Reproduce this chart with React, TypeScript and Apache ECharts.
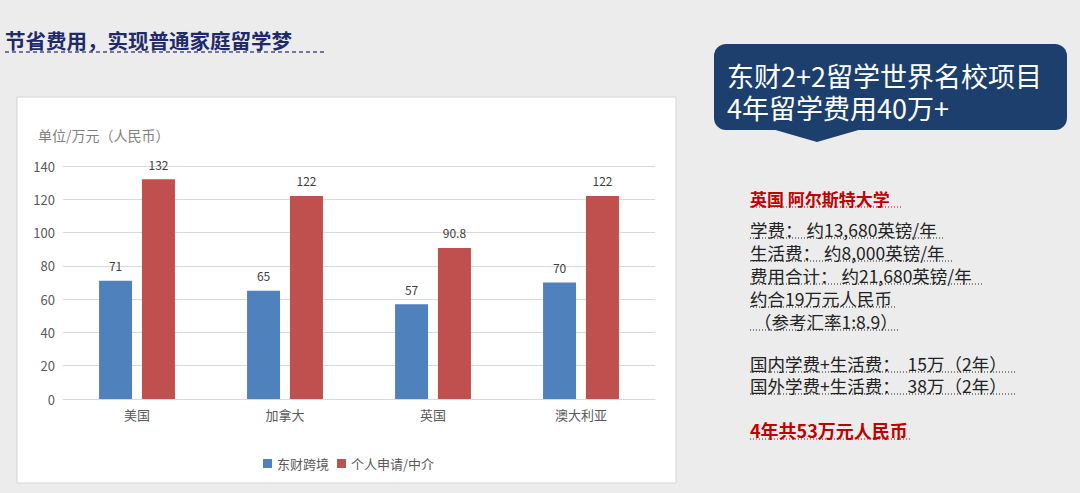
import React, { useEffect, useRef } from "react";
import * as echarts from "echarts";

const categories = ["美国", "加拿大", "英国", "澳大利亚"];
const dongcaiValues = [71, 65, 57, 70];
const agencyValues = [132, 122, 90.8, 122];
const seriesNames = ["东财跨境", "个人申请/中介"];
const yTicks = { min: 0, max: 140, interval: 20 };

const pageTitle = "节省费用，实现普通家庭留学梦";
const calloutLines = ["东财2+2留学世界名校项目", "4年留学费用40万+"];
const sideHeader = "英国 阿尔斯特大学";
const sideLines = [
  "学费： 约13,680英镑/年",
  "生活费： 约8,000英镑/年",
  "费用合计： 约21,680英镑/年",
  "约合19万元人民币",
  " （参考汇率1:8.9）",
];
const sideLines2 = ["国内学费+生活费：  15万（2年）", "国外学费+生活费：  38万（2年）"];
const sideFooter = "4年共53万元人民币";
const unitLabel = "单位/万元（人民币）";

const FONT = "'Noto Sans CJK SC', 'Noto Sans', sans-serif";

export default function App() {
  const ref = useRef<HTMLDivElement>(null);
  useEffect(() => {
    if (!ref.current) return;
    const chart = echarts.init(ref.current, null, { renderer: "svg" });

    const graphics: any[] = [];
    graphics.push({
      type: "rect",
      z: -10,
      shape: { x: 17, y: 97, width: 659, height: 386 },
      style: { fill: "#ffffff", stroke: "#d6d6d6", lineWidth: 1 },
    });
    graphics.push({
      type: "text",
      x: 5,
      y: 40,
      style: {
        text: pageTitle,
        fill: "#1f2a6b",
        font: `bold 20.5px ${FONT}`,
        lineHeight: 21,
        textVerticalAlign: "middle",
      },
    });
    graphics.push({
      type: "line",
      shape: { x1: 5, y1: 52, x2: 325, y2: 52 },
      style: { stroke: "#4a4f7e", lineWidth: 1.5, lineDash: [4, 3] },
    });
    graphics.push({
      type: "rect",
      shape: { x: 714, y: 44, width: 353, height: 86, r: 12 },
      style: { fill: "#1d3f6e" },
    });
    graphics.push({
      type: "polygon",
      shape: { points: [[772, 129], [862, 129], [817, 142]] },
      style: { fill: "#1d3f6e" },
    });
    graphics.push({
      type: "text",
      x: 727,
      y: 59,
      style: {
        text: calloutLines.join("\n"),
        fill: "#ffffff",
        font: `27px ${FONT}`,
        lineHeight: 32,
        textVerticalAlign: "top",
      },
    });

    const SIZE = 17.5;
    const addBlock = (lines: string[], yFirst: number, step: number, color: string, bold: boolean, ulEnds: number[], size = SIZE) => {
      graphics.push({
        type: "text",
        x: 750,
        y: yFirst - step / 2,
        style: {
          text: lines.join("\n"),
          fill: color,
          font: `${bold ? "bold " : ""}${size}px ${FONT}`,
          lineHeight: step,
          textVerticalAlign: "top",
        },
      });
      lines.forEach((_, i) => {
        const y = yFirst + i * step + 9;
        graphics.push({
          type: "line",
          shape: { x1: 750, y1: y, x2: ulEnds[i], y2: y },
          style: { stroke: bold ? color : "#222222", lineWidth: 1.2, lineDash: [1, 2] },
        });
      });
    };
    addBlock([sideHeader], 198, 20, "#c00000", true, [902], 17);
    addBlock(sideLines, 229, 23, "#222222", false, [943, 952, 982, 897, 900]);
    addBlock(sideLines2, 363, 22, "#222222", false, [1015, 1015]);
    addBlock([sideFooter], 430, 20, "#c00000", true, [912], 18);

    chart.setOption({
      animation: false,
      backgroundColor: "#ececec",
      textStyle: { fontFamily: FONT },
      title: {
        text: unitLabel,
        left: 33,
        top: 123,
        textStyle: { fontSize: 14, fontWeight: "normal", color: "#7f7f7f", fontFamily: FONT },
      },
      legend: {
        data: seriesNames,
        left: 258,
        top: 452,
        itemWidth: 9,
        itemHeight: 9,
        itemGap: 8,
        icon: "rect",
        textStyle: { fontSize: 13, color: "#595959", fontFamily: FONT },
      },
      grid: { left: 63, right: 425, top: 166, bottom: 94, containLabel: false },
      xAxis: {
        type: "category",
        data: categories,
        axisTick: { show: false },
        axisLine: { lineStyle: { color: "#d9d9d9" } },
        axisLabel: { color: "#595959", fontSize: 13, margin: 9, fontFamily: FONT },
      },
      yAxis: {
        type: "value",
        min: yTicks.min,
        max: yTicks.max,
        interval: yTicks.interval,
        axisLine: { show: false },
        axisTick: { show: false },
        splitLine: { lineStyle: { color: "#d9d9d9" } },
        axisLabel: { color: "#595959", fontSize: 13, margin: 8, fontFamily: FONT },
      },
      series: [
        {
          name: seriesNames[0],
          type: "bar",
          data: dongcaiValues,
          barWidth: 33,
          barGap: "30%",
          itemStyle: { color: "#4f81bd" },
          label: { show: true, position: "top", distance: 9, color: "#404040", fontSize: 12 },
        },
        {
          name: seriesNames[1],
          type: "bar",
          data: agencyValues,
          barWidth: 33,
          barGap: "30%",
          itemStyle: { color: "#c0504d" },
          label: { show: true, position: "top", distance: 9, color: "#404040", fontSize: 12 },
        },
      ],
      graphic: { elements: graphics },
    });
    return () => chart.dispose();
  }, []);
  return (
    <div
      ref={ref}
      style={{ position: "fixed", left: 0, top: 0, width: 1080, height: 493 }}
    />
  );
}
